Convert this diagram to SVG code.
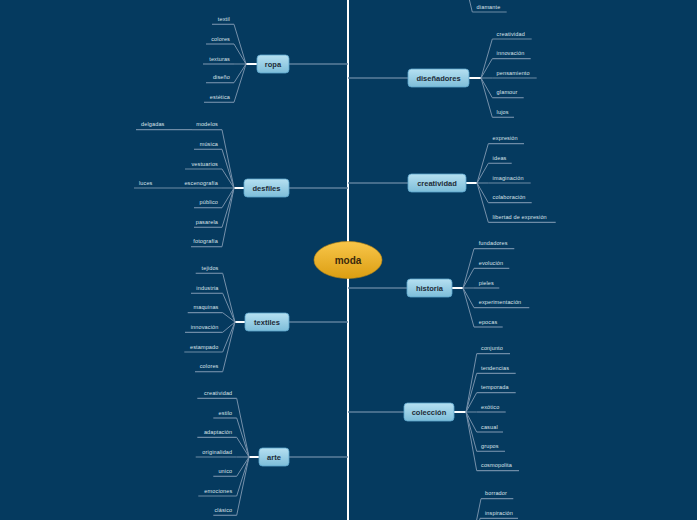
<svg xmlns="http://www.w3.org/2000/svg" width="697" height="520" viewBox="0 0 697 520">
<defs>
<linearGradient id="gNode" x1="0" y1="0" x2="0" y2="1">
<stop offset="0" stop-color="#b6e0f1"/>
<stop offset="1" stop-color="#7dbdd9"/>
</linearGradient>
<linearGradient id="gCenter" x1="0" y1="0" x2="0" y2="1">
<stop offset="0" stop-color="#f8c64a"/>
<stop offset="1" stop-color="#dc9e12"/>
</linearGradient>
<style>
.ln{stroke:#7590aa;stroke-width:1;fill:none}
.ul{stroke:#6e8ba6;stroke-width:1.2;fill:none}
.main{stroke:#5c7f9b;stroke-width:1.5;fill:none}
.fk{stroke:#ffffff;stroke-width:2;fill:none}
.node rect{fill:url(#gNode);stroke:#5aa4cc;stroke-width:0.8}
.node text{font-family:"Liberation Sans",Arial,sans-serif;font-size:7.5px;font-weight:bold;fill:#1d2b37;text-anchor:middle}
.lf text{font-family:"Liberation Sans",Arial,sans-serif;font-size:5.5px;fill:#dbe3ea;letter-spacing:0.15px}
.L text{text-anchor:end}
.R text{text-anchor:start}
</style>
</defs>
<rect x="0" y="0" width="697" height="520" fill="#053a5f"/>

<g id="connectors">
<line x1="348" y1="0" x2="348" y2="520" stroke="#ffffff" stroke-width="2"/>
<line class="main" x1="348" y1="64" x2="289" y2="64"/>
<line class="main" x1="348" y1="188" x2="289" y2="188"/>
<line class="main" x1="348" y1="322" x2="289" y2="322"/>
<line class="main" x1="348" y1="457" x2="289" y2="457"/>
<line class="main" x1="348" y1="78" x2="408" y2="78"/>
<line class="main" x1="348" y1="183" x2="408" y2="183"/>
<line class="main" x1="348" y1="288" x2="407" y2="288"/>
<line class="main" x1="348" y1="412" x2="404" y2="412"/>
<line class="fk" x1="246" y1="64" x2="257" y2="64"/>
<line class="fk" x1="234" y1="188" x2="244" y2="188"/>
<line class="fk" x1="235" y1="322" x2="245" y2="322"/>
<line class="fk" x1="249" y1="457" x2="259" y2="457"/>
<line class="fk" x1="469" y1="78" x2="481" y2="78"/>
<line class="fk" x1="466" y1="183" x2="477" y2="183"/>
<line class="fk" x1="452" y1="288" x2="463" y2="288"/>
<line class="fk" x1="454" y1="412" x2="466" y2="412"/>
<!-- ropa -->
<path class="ln" d="M246 64L234 24.3M246 64L234 44M246 64L234 64M246 64L234 82.7M246 64L234 102.3"/>
<!-- desfiles -->
<path class="ln" d="M234 188L222 129.7M234 188L222 149.3M234 188L222 169M234 188L222 188M234 188L222 207.7M234 188L222 227.3M234 188L222 246.7"/>
<!-- textiles -->
<path class="ln" d="M235 322L222.7 273.3M235 322L222.7 293.3M235 322L222.7 312.7M235 322L222.7 332.3M235 322L222.7 352M235 322L222.7 371.7"/>
<!-- arte -->
<path class="ln" d="M249 457L236.7 398.3M249 457L236.7 418M249 457L236.7 437.3M249 457L236.7 457M249 457L236.7 476.3M249 457L236.7 496M249 457L236.7 515.3"/>
<!-- diseñadores -->
<path class="ln" d="M481 78L492.3 39M481 78L492.3 58.7M481 78L492.3 78M481 78L492.3 97.7M481 78L492.3 117.3"/>
<!-- creatividad -->
<path class="ln" d="M477 183L488.3 143.7M477 183L488.3 163.3M477 183L488.3 183M477 183L488.3 202.7M477 183L488.3 222.3"/>
<!-- historia -->
<path class="ln" d="M463 288L474 248.7M463 288L474 268.3M463 288L474 288M463 288L474 307.7M463 288L474 327"/>
<!-- colección -->
<path class="ln" d="M466 412L476.7 353.7M466 412L476.7 373.3M466 412L476.7 392.7M466 412L476.7 412M466 412L476.7 432M466 412L476.7 451.3M466 412L476.7 470.7"/>
<!-- partial top / bottom -->
<path class="ln" d="M472.3 12L468 -6"/>
<path class="ln" d="M481 498.7L475 528M480 518.3L478.5 526"/>
</g>

<g id="center">
<ellipse cx="348" cy="260" rx="34" ry="18.5" fill="url(#gCenter)" stroke="#c98f10" stroke-width="0.6"/>
<text x="348" y="263.5" font-family="Liberation Sans,Arial,sans-serif" font-size="10" font-weight="bold" fill="#3b2a0c" text-anchor="middle">moda</text>
</g>

<g id="ropa" class="node"><rect x="257" y="55" width="32" height="18" rx="3.5"/><text x="273" y="66.7">ropa</text></g>
<g id="desfiles" class="node"><rect x="244" y="179" width="45" height="18" rx="3.5"/><text x="266.5" y="190.7">desfiles</text></g>
<g id="textiles" class="node"><rect x="245" y="313" width="44" height="18" rx="3.5"/><text x="267" y="324.7">textiles</text></g>
<g id="arte" class="node"><rect x="259" y="448" width="30" height="18" rx="3.5"/><text x="274" y="459.7">arte</text></g>
<g id="disenadores" class="node"><rect x="408" y="69" width="61" height="18" rx="3.5"/><text x="438.5" y="80.7">diseñadores</text></g>
<g id="creatividad" class="node"><rect x="408" y="174" width="58" height="18" rx="3.5"/><text x="437" y="185.7">creatividad</text></g>
<g id="historia" class="node"><rect x="407" y="279" width="45" height="18" rx="3.5"/><text x="429.5" y="290.7">historia</text></g>
<g id="coleccion" class="node"><rect x="404" y="403" width="50" height="18" rx="3.5"/><text x="429" y="414.7">colección</text></g>

<!-- leaves: ropa -->
<g id="ropa-textil" class="lf L"><line class="ul" x1="212" y1="24.3" x2="234" y2="24.3"/><text x="230" y="21">textil</text></g>
<g id="ropa-colores" class="lf L"><line class="ul" x1="206" y1="44" x2="234" y2="44"/><text x="230" y="40.7">colores</text></g>
<g id="ropa-texturas" class="lf L"><line class="ul" x1="203" y1="64" x2="234" y2="64"/><text x="230" y="60.7">texturas</text></g>
<g id="ropa-diseno" class="lf L"><line class="ul" x1="206" y1="82.7" x2="234" y2="82.7"/><text x="230" y="79.4">diseño</text></g>
<g id="ropa-estetica" class="lf L"><line class="ul" x1="204" y1="102.3" x2="234" y2="102.3"/><text x="230" y="99">estética</text></g>

<!-- leaves: desfiles -->
<g id="desfiles-modelos" class="lf L"><line class="ul" x1="192" y1="129.7" x2="222" y2="129.7"/><text x="218" y="126.4">modelos</text></g>
<g id="desfiles-delgadas" class="lf L"><line class="ul" x1="136" y1="129.7" x2="192" y2="129.7"/><text x="164.5" y="126.4">delgadas</text></g>
<g id="desfiles-musica" class="lf L"><line class="ul" x1="194" y1="149.3" x2="222" y2="149.3"/><text x="218" y="146">música</text></g>
<g id="desfiles-vestuarios" class="lf L"><line class="ul" x1="185" y1="169" x2="222" y2="169"/><text x="218" y="165.7">vestuarios</text></g>
<g id="desfiles-escenografia" class="lf L"><line class="ul" x1="179" y1="188" x2="222" y2="188"/><text x="218" y="184.7">escenografía</text></g>
<g id="desfiles-luces" class="lf L"><line class="ul" x1="134" y1="188" x2="179" y2="188"/><text x="152.5" y="184.7">luces</text></g>
<g id="desfiles-publico" class="lf L"><line class="ul" x1="194" y1="207.7" x2="222" y2="207.7"/><text x="218" y="204.4">público</text></g>
<g id="desfiles-pasarela" class="lf L"><line class="ul" x1="194" y1="227.3" x2="222" y2="227.3"/><text x="218" y="224">pasarela</text></g>
<g id="desfiles-fotografia" class="lf L"><line class="ul" x1="191" y1="246.7" x2="222" y2="246.7"/><text x="218" y="243.4">fotografía</text></g>

<!-- leaves: textiles -->
<g id="textiles-tejidos" class="lf L"><line class="ul" x1="195.7" y1="273.3" x2="222.7" y2="273.3"/><text x="218.5" y="270">tejidos</text></g>
<g id="textiles-industria" class="lf L"><line class="ul" x1="191" y1="293.3" x2="222.7" y2="293.3"/><text x="218.5" y="290">industria</text></g>
<g id="textiles-maquinas" class="lf L"><line class="ul" x1="187.7" y1="312.7" x2="222.7" y2="312.7"/><text x="218.5" y="309.4">maquinas</text></g>
<g id="textiles-innovacion" class="lf L"><line class="ul" x1="185" y1="332.3" x2="222.7" y2="332.3"/><text x="218.5" y="329">innovación</text></g>
<g id="textiles-estampado" class="lf L"><line class="ul" x1="184.3" y1="352" x2="222.7" y2="352"/><text x="218.5" y="348.7">estampado</text></g>
<g id="textiles-colores" class="lf L"><line class="ul" x1="195" y1="371.7" x2="222.7" y2="371.7"/><text x="218.5" y="368.4">colores</text></g>

<!-- leaves: arte -->
<g id="arte-creatividad" class="lf L"><line class="ul" x1="197.3" y1="398.3" x2="236.7" y2="398.3"/><text x="232.3" y="395">creatividad</text></g>
<g id="arte-estilo" class="lf L"><line class="ul" x1="213.3" y1="418" x2="236.7" y2="418"/><text x="232.3" y="414.7">estilo</text></g>
<g id="arte-adaptacion" class="lf L"><line class="ul" x1="197.3" y1="437.3" x2="236.7" y2="437.3"/><text x="232.3" y="434">adaptación</text></g>
<g id="arte-originalidad" class="lf L"><line class="ul" x1="195.7" y1="457" x2="236.7" y2="457"/><text x="232.3" y="453.7">originalidad</text></g>
<g id="arte-unico" class="lf L"><line class="ul" x1="213.3" y1="476.3" x2="236.7" y2="476.3"/><text x="232.3" y="473">unico</text></g>
<g id="arte-emociones" class="lf L"><line class="ul" x1="198.3" y1="496" x2="236.7" y2="496"/><text x="232.3" y="492.7">emociones</text></g>
<g id="arte-clasico" class="lf L"><line class="ul" x1="213.3" y1="515.3" x2="236.7" y2="515.3"/><text x="232.3" y="512">clásico</text></g>

<!-- leaves: diseñadores -->
<g id="dis-creatividad" class="lf R"><line class="ul" x1="492.3" y1="39" x2="531.7" y2="39"/><text x="496.6" y="35.7">creatividad</text></g>
<g id="dis-innovacion" class="lf R"><line class="ul" x1="492.3" y1="58.7" x2="530.7" y2="58.7"/><text x="496.6" y="55.4">innovación</text></g>
<g id="dis-pensamiento" class="lf R"><line class="ul" x1="492.3" y1="78" x2="536.7" y2="78"/><text x="496.6" y="74.7">pensamiento</text></g>
<g id="dis-glamour" class="lf R"><line class="ul" x1="492.3" y1="97.7" x2="523.7" y2="97.7"/><text x="496.6" y="94.4">glamour</text></g>
<g id="dis-lujos" class="lf R"><line class="ul" x1="492.3" y1="117.3" x2="514" y2="117.3"/><text x="496.6" y="114">lujos</text></g>

<!-- leaves: creatividad -->
<g id="cre-expresion" class="lf R"><line class="ul" x1="488.3" y1="143.7" x2="524" y2="143.7"/><text x="492.6" y="140.4">expresión</text></g>
<g id="cre-ideas" class="lf R"><line class="ul" x1="488.3" y1="163.3" x2="511.7" y2="163.3"/><text x="492.6" y="160">ideas</text></g>
<g id="cre-imaginacion" class="lf R"><line class="ul" x1="488.3" y1="183" x2="530.7" y2="183"/><text x="492.6" y="179.7">imaginación</text></g>
<g id="cre-colaboracion" class="lf R"><line class="ul" x1="488.3" y1="202.7" x2="531.7" y2="202.7"/><text x="492.6" y="199.4">colaboración</text></g>
<g id="cre-libertad" class="lf R"><line class="ul" x1="488.3" y1="222.3" x2="555.7" y2="222.3"/><text x="492.6" y="219">libertad de expresión</text></g>

<!-- leaves: historia -->
<g id="his-fundadores" class="lf R"><line class="ul" x1="474" y1="248.7" x2="514.3" y2="248.7"/><text x="478.7" y="245.4">fundadores</text></g>
<g id="his-evolucion" class="lf R"><line class="ul" x1="474" y1="268.3" x2="509.3" y2="268.3"/><text x="478.7" y="265">evolución</text></g>
<g id="his-pieles" class="lf R"><line class="ul" x1="474" y1="288" x2="499.3" y2="288"/><text x="478.7" y="284.7">pieles</text></g>
<g id="his-experimentacion" class="lf R"><line class="ul" x1="474" y1="307.7" x2="529.3" y2="307.7"/><text x="478.7" y="304.4">experimentación</text></g>
<g id="his-epocas" class="lf R"><line class="ul" x1="474" y1="327" x2="502.7" y2="327"/><text x="478.7" y="323.7">epocas</text></g>

<!-- leaves: colección -->
<g id="col-conjunto" class="lf R"><line class="ul" x1="476.7" y1="353.7" x2="510" y2="353.7"/><text x="481" y="350.4">conjunto</text></g>
<g id="col-tendencias" class="lf R"><line class="ul" x1="476.7" y1="373.3" x2="515.7" y2="373.3"/><text x="481" y="370">tendencias</text></g>
<g id="col-temporada" class="lf R"><line class="ul" x1="476.7" y1="392.7" x2="515.7" y2="392.7"/><text x="481" y="389.4">temporada</text></g>
<g id="col-exotico" class="lf R"><line class="ul" x1="476.7" y1="412" x2="505.7" y2="412"/><text x="481" y="408.7">exótico</text></g>
<g id="col-casual" class="lf R"><line class="ul" x1="476.7" y1="432" x2="503" y2="432"/><text x="481" y="428.7">casual</text></g>
<g id="col-grupos" class="lf R"><line class="ul" x1="476.7" y1="451.3" x2="505" y2="451.3"/><text x="481" y="448">grupos</text></g>
<g id="col-cosmopolita" class="lf R"><line class="ul" x1="476.7" y1="470.7" x2="519" y2="470.7"/><text x="481" y="467.4">cosmopolita</text></g>

<!-- partial nodes at edges -->
<g id="top-diamante" class="lf R"><line class="ul" x1="472.3" y1="12" x2="506.7" y2="12"/><text x="476.6" y="8.7">diamante</text></g>
<g id="bot-borrador" class="lf R"><line class="ul" x1="481" y1="498.7" x2="513.3" y2="498.7"/><text x="485" y="495.4">borrador</text></g>
<g id="bot-inspiracion" class="lf R"><line class="ul" x1="480" y1="518.3" x2="518" y2="518.3"/><text x="485" y="515">inspiración</text></g>
</svg>
